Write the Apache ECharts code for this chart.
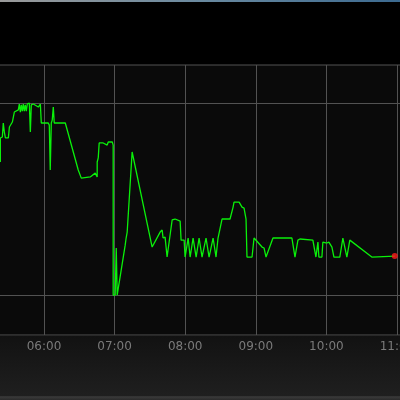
<!DOCTYPE html>
<html>
<head>
<meta charset="utf-8">
<script src="https://cdn.jsdelivr.net/npm/echarts@6/dist/echarts.min.js"></script>
<style>
  html, body { margin: 0; padding: 0; background: #000; }
  #container { width: 400px; height: 400px; }
</style>
</head>
<body>
<div id="container"></div>
<script>
// minutes after midnight
var times = [322.9, 322.9, 324.6, 325.4, 326.3, 327.2, 329.7, 330.6, 333.1, 334.8,
  338.2, 339.0, 339.9, 340.7, 341.6, 342.4, 343.3, 344.1, 345.0, 345.8,
  347.5, 348.4, 349.2, 350.9, 355.2, 356.9, 357.7, 363.6, 364.5, 365.3,
  366.2, 367.0, 367.9, 368.7, 378.1, 389.1, 391.7, 399.3, 403.5, 405.2,
  405.2, 406.1, 406.9, 407.8, 410.3, 413.7, 414.6, 418.0, 418.8, 418.8,
  420.5, 421.4, 422.2, 423.1, 429.0, 429.8, 430.7, 434.9, 451.9, 458.7,
  460.4, 461.2, 462.9, 464.6, 468.9, 471.4, 475.7, 476.5, 476.5, 479.1,
  479.9, 482.5, 484.2, 486.7, 489.3, 491.8, 494.3, 497.7, 500.3, 503.7,
  506.2, 507.9, 511.3, 518.1, 520.7, 521.5, 525.8, 528.3, 530.0, 531.7,
  532.5, 536.8, 538.5, 545.3, 547.0, 548.7, 554.6, 570.7, 573.3, 575.8,
  577.5, 588.5, 589.4, 591.1, 592.8, 593.6, 596.2, 597.0, 600.4, 602.1,
  604.7, 605.5, 606.4, 611.4, 614.0, 617.4, 619.9, 638.6, 658.1];

var values = [69.3, 81.8, 82.3, 89.6, 84.9, 81.8, 81.8, 87.5, 90.1, 95.3,
  96.4, 99.5, 95.3, 99.0, 95.8, 99.5, 95.8, 99.0, 95.8, 99.5,
  100, 84.9, 99.0, 99.5, 97.9, 99.5, 89.6, 89.6, 88.5, 65.1,
  89.6, 91.1, 97.9, 89.6, 89.6, 65.1, 60.9, 61.5, 63.5, 61.5,
  69.3, 71.4, 79.2, 79.7, 79.2, 78.1, 79.7, 79.7, 78.1, 0,
  0, 24.5, 0, 0, 26.0, 29.7, 32.8, 74.5, 25.0, 32.8,
  33.9, 29.7, 30.2, 19.8, 39.1, 39.6, 38.5, 39.1, 28.6, 28.6,
  19.8, 29.7, 19.8, 29.7, 19.8, 29.7, 19.8, 29.7, 19.8, 29.7,
  19.8, 29.7, 39.6, 39.6, 45.8, 48.4, 48.4, 45.8, 45.3, 39.6,
  19.8, 19.8, 29.7, 25.0, 24.5, 19.8, 29.7, 29.7, 19.8, 28.6,
  29.2, 28.6, 29.2, 19.8, 27.6, 19.8, 19.8, 27.6, 27.1, 27.6,
  25.0, 24.5, 19.8, 19.8, 29.7, 19.8, 28.6, 19.8, 20.3];

var hourTicks = [300, 360, 420, 480, 540, 600, 660, 720];
var highLevel = 100;
var lowLevel = 0;

var dom = document.getElementById("container");
var myChart = echarts.init(dom);

var lineData = times.map(function (t, i) {
  return [t, values[i]];
});
var lastPoint = lineData[lineData.length - 1];

function pad(n) {
  return (n < 10 ? "0" : "") + n;
}

var option = {
  backgroundColor: "#000",
  animation: false,
  graphic: [
    {
      type: "rect",
      left: 0, top: 336,
      shape: { width: 400, height: 64 },
      style: {
        fill: new echarts.graphic.LinearGradient(0, 0, 0, 1, [
          { offset: 0, color: "#121212" },
          { offset: 0.93, color: "#1f1f1f" },
          { offset: 0.95, color: "#3a3a3a" },
          { offset: 1, color: "#2a2a2a" }
        ])
      },
      z: -10
    },
    {
      type: "rect",
      left: 0, top: 0,
      shape: { width: 400, height: 2 },
      style: {
        fill: new echarts.graphic.LinearGradient(0, 0, 1, 0, [
          { offset: 0, color: "#9a9a9a" },
          { offset: 0.5, color: "#6a8aa0" },
          { offset: 1, color: "#3c6a90" }
        ])
      }
    }
  ],
  grid: {
    left: -26.6,
    right: -67.6,
    top: 65,
    bottom: 65,
    containLabel: false,
    outerBoundsMode: "none",
    show: true,
    backgroundColor: "#0a0a0a",
    borderColor: "#525252",
    borderWidth: 1
  },
  xAxis: {
    type: "value",
    min: hourTicks[0],
    max: hourTicks[hourTicks.length - 1],
    interval: 60,
    axisLine: { show: true, lineStyle: { color: "#525252" } },
    axisTick: { show: false },
    axisLabel: {
      color: "#7a7a7a",
      fontSize: 12,
      fontFamily: "DejaVu Sans",
      margin: 6,
      formatter: function (v) {
        return pad(Math.floor(v / 60)) + ":" + pad(v % 60);
      }
    },
    splitLine: { show: true, lineStyle: { color: "#525252", width: 1 } }
  },
  yAxis: {
    type: "value",
    min: -20.8,
    max: 119.8,
    axisLine: { show: false },
    axisTick: { show: false },
    axisLabel: { show: false },
    splitLine: { show: false }
  },
  series: [
    {
      type: "line",
      data: lineData,
      showSymbol: false,
      lineStyle: { color: "#0af00a", width: 1.3 },
      markLine: {
        silent: true,
        symbol: "none",
        label: { show: false },
        lineStyle: { color: "#525252", type: "solid", width: 1 },
        data: [{ yAxis: highLevel }, { yAxis: lowLevel }],
        z: 1
      },
      z: 3
    },
    {
      type: "scatter",
      data: [lastPoint],
      symbolSize: 6,
      itemStyle: { color: "#ff1a1a" },
      z: 4
    }
  ]
};

myChart.setOption(option, true);
</script>
</body>
</html>
